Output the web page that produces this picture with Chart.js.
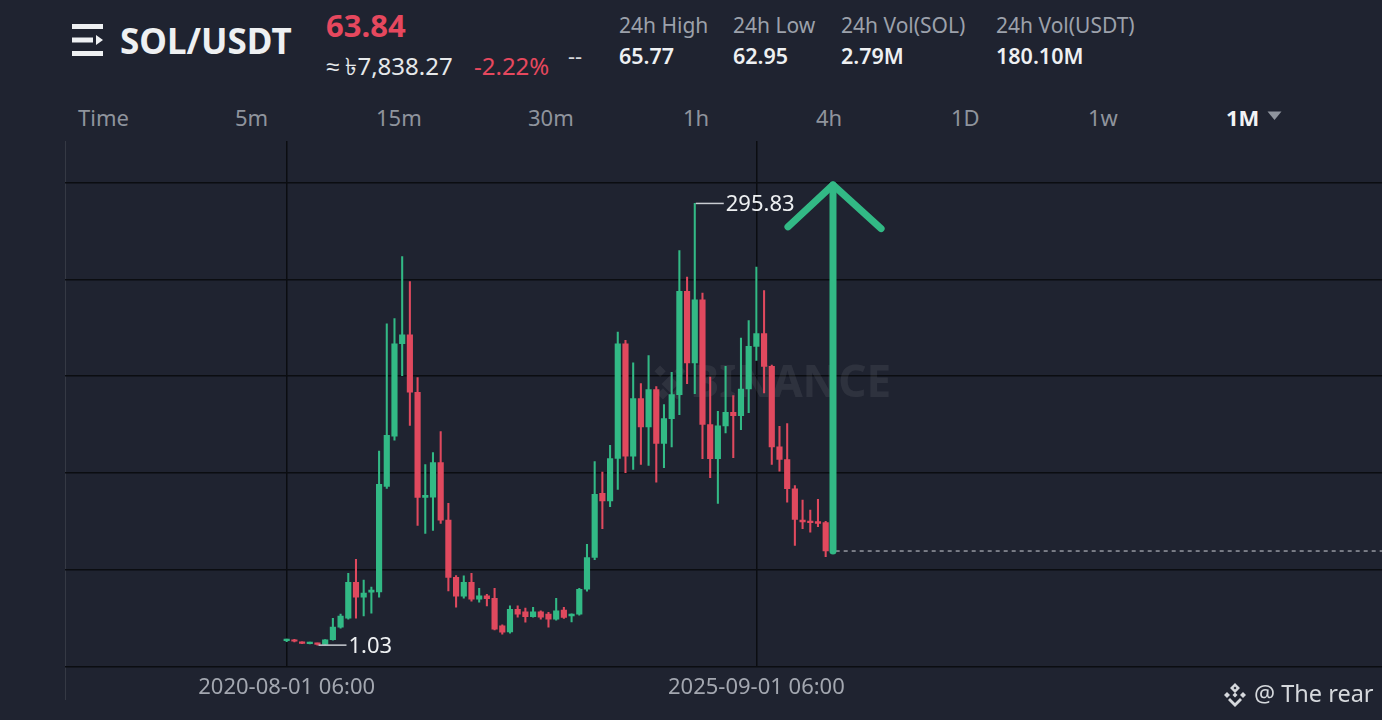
<!DOCTYPE html>
<html lang="en">
<head>
  <meta charset="UTF-8" />
  <title>SOL/USDT 1M</title>
  <script src="https://cdn.jsdelivr.net/npm/chart.js"></script>
  <style>
    html, body {
      margin: 0;
      width: 1382px;
      height: 720px;
      overflow: hidden;
      background: #1f2330;
      font-family: 'Noto Sans', sans-serif;
    }
    .t {
      position: absolute;
      line-height: 1;
      white-space: nowrap;
      transform: translateY(-50%);
    }
    .lbl { font-size: 21px; color: #9ca1ab; }
    .val { font-size: 21.5px; color: #eef0f2; font-weight: 600; }
    .tab { font-size: 22px; color: #8f949d; }
    #pane {
      position: absolute;
      left: 65px;
      top: 141px;
    }
    #edge {
      position: absolute;
      left: 65px;
      top: 141px;
      width: 1px;
      height: 559px;
      background: #353944;
    }
  </style>
</head>
<body>

  <svg style="position:absolute;left:72px;top:24px" width="34" height="32" viewBox="0 0 34 32">
    <rect x="0" y="0" width="31" height="5" fill="#eef0f2"/>
    <rect x="0" y="13.5" width="21" height="5" fill="#eef0f2"/>
    <path d="M24 11 L31 16 L24 21 Z" fill="#eef0f2"/>
    <rect x="0" y="27" width="31" height="5" fill="#eef0f2"/>
  </svg>
  <div class="t" style="left:120px;top:40px;font-size:35px;font-weight:700;color:#eef0f2">SOL/USDT</div>
  <div class="t" style="left:326px;top:25px;font-size:31px;font-weight:700;color:#e6485e">63.84</div>
  <div class="t" style="left:326px;top:66px;font-size:24px;color:#e6e8ea">≈ ৳7,838.27</div>
  <div class="t" style="left:474px;top:66px;font-size:24px;color:#e6485e">-2.22%</div>
  <div class="t" style="left:568px;top:55px;font-size:22px;color:#d5d8dc">--</div>

  <div class="t lbl" style="left:619px;top:25px">24h High</div>
  <div class="t lbl" style="left:733px;top:25px">24h Low</div>
  <div class="t lbl" style="left:841px;top:25px">24h Vol(SOL)</div>
  <div class="t lbl" style="left:996px;top:25px">24h Vol(USDT)</div>
  <div class="t val" style="left:619px;top:56px">65.77</div>
  <div class="t val" style="left:733px;top:56px">62.95</div>
  <div class="t val" style="left:841px;top:56px">2.79M</div>
  <div class="t val" style="left:996px;top:56px">180.10M</div>

  <div class="t tab" style="left:78px;top:117px">Time</div>
  <div class="t tab" style="left:235px;top:117px">5m</div>
  <div class="t tab" style="left:376px;top:117px">15m</div>
  <div class="t tab" style="left:528px;top:117px">30m</div>
  <div class="t tab" style="left:683px;top:117px">1h</div>
  <div class="t tab" style="left:816px;top:117px">4h</div>
  <div class="t tab" style="left:951px;top:117px">1D</div>
  <div class="t tab" style="left:1088px;top:117px">1w</div>
  <div class="t tab" style="left:1226px;top:117px;color:#f2f3f5;font-weight:700">1M</div>
  <svg style="position:absolute;left:1267px;top:111px" width="15" height="10" viewBox="0 0 15 10">
    <path d="M0.5 0.5 L14.5 0.5 L7.5 9 Z" fill="#8f949d"/>
  </svg>

  <div id="edge"></div>
  <canvas id="pane" width="1317" height="579"></canvas>

  <svg style="position:absolute;left:1221px;top:681px" width="28" height="28" viewBox="0 0 28 28">
    <g fill="#d5d8dc">
      <path d="M14 2 L19 7 L14 12 L9 7 Z M14 5.5 L12.5 7 L14 8.5 L15.5 7 Z"/>
      <path d="M3 14 L6 11 L9 14 L6 17 Z"/>
      <path d="M19 14 L22 11 L25 14 L22 17 Z"/>
      <path d="M14 11.5 L16.5 14 L14 16.5 L11.5 14 Z"/>
      <path d="M9 17 L14 22 L19 17 L21 19 L14 26 L7 19 Z"/>
    </g>
  </svg>
  <div class="t" style="left:1254px;top:694px;font-size:23.5px;color:#d5d8dc">@ The rear</div>

  <script>
    // monthly candles, SOL/USDT
    const months = [
      "2020-08", "2020-09", "2020-10", "2020-11", "2020-12",
      "2021-01", "2021-02", "2021-03", "2021-04", "2021-05", "2021-06", "2021-07", "2021-08", "2021-09", "2021-10", "2021-11", "2021-12",
      "2022-01", "2022-02", "2022-03", "2022-04", "2022-05", "2022-06", "2022-07", "2022-08", "2022-09", "2022-10", "2022-11", "2022-12",
      "2023-01", "2023-02", "2023-03", "2023-04", "2023-05", "2023-06", "2023-07", "2023-08", "2023-09", "2023-10", "2023-11", "2023-12",
      "2024-01", "2024-02", "2024-03", "2024-04", "2024-05", "2024-06", "2024-07", "2024-08", "2024-09", "2024-10", "2024-11", "2024-12",
      "2025-01", "2025-02", "2025-03", "2025-04", "2025-05", "2025-06", "2025-07", "2025-08", "2025-09", "2025-10", "2025-11", "2025-12",
      "2026-01", "2026-02", "2026-03", "2026-04", "2026-05", "2026-06"
    ];
    const opens = [
      4.0, 4.5, 3.0, 2.0, 2.0, 1.5, 4.6, 13.0, 19.0, 43.0,
      33.0, 36.3, 36.5, 106.9, 140.5, 202.2, 208.2, 169.8, 99.6, 99.8,
      122.9, 84.5, 46.3, 33.7, 43.0, 31.7, 33.9, 32.3, 13.9, 9.9,
      25.0, 23.2, 20.1, 23.2, 21.7, 18.4, 24.5, 20.6, 21.7, 38.3,
      59.5, 102.3, 97.2, 125.6, 202.2, 127.1, 165.6, 146.7, 171.6, 135.6,
      152.2, 168.2, 237.1, 189.4, 231.5, 148.3, 125.4, 147.4, 156.4, 154.2,
      172.0, 200.4, 208.9, 187.1, 133.4, 124.9, 105.4, 84.5, 83.8, 83.5,
      82.8
    ];
    const highs = [
      5.0, 4.9, 3.3, 3.0, 2.4, 4.8, 19.0, 21.7, 49.0, 58.3,
      44.5, 39.7, 130.5, 215.5, 218.9, 260.3, 243.7, 179.6, 121.6, 129.6,
      143.6, 95.6, 47.5, 47.2, 49.0, 39.0, 35.0, 39.0, 14.5, 27.2,
      27.2, 25.7, 26.3, 23.9, 23.0, 32.3, 26.3, 22.0, 39.0, 68.3,
      123.6, 116.5, 134.3, 210.0, 204.4, 189.4, 175.6, 194.3, 173.6, 161.6,
      183.1, 264.4, 246.7, 295.83, 236.0, 180.0, 157.1, 187.1, 167.6, 206.0,
      217.7, 253.3, 237.7, 188.0, 147.1, 148.9, 107.5, 97.8, 91.2, 98.3,
      83.6
    ];
    const lows = [
      3.4, 3.2, 2.0, 1.9, 1.03, 1.3, 4.3, 12.4, 18.4, 19.0,
      20.5, 22.3, 33.0, 105.6, 137.8, 180.9, 147.6, 81.0, 75.6, 77.6,
      82.3, 37.2, 26.3, 32.3, 30.3, 29.7, 27.2, 11.2, 8.4, 9.0,
      19.7, 16.4, 19.7, 18.4, 13.0, 17.7, 18.9, 16.6, 21.0, 37.0,
      58.0, 78.8, 93.4, 104.9, 116.1, 118.3, 121.6, 120.9, 109.8, 119.4,
      133.4, 154.9, 175.6, 168.9, 125.4, 112.8, 95.6, 142.7, 126.1, 144.9,
      156.1, 191.1, 169.4, 121.6, 117.2, 96.5, 67.6, 78.8, 76.5, 80.1,
      60.1
    ];
    const closes = [
      4.8, 3.6, 2.2, 2.6, 1.5, 4.5, 13.0, 20.5, 43.0, 33.0,
      35.7, 37.7, 108.3, 141.1, 202.2, 208.2, 169.8, 99.6, 101.0, 122.9,
      84.5, 46.3, 33.7, 43.0, 31.7, 33.9, 32.0, 11.7, 9.7, 25.0,
      21.7, 20.1, 23.2, 19.7, 18.4, 23.9, 19.5, 21.7, 38.3, 59.5,
      101.6, 97.2, 125.6, 202.2, 127.1, 165.6, 146.7, 171.6, 135.6, 152.2,
      168.2, 237.1, 189.4, 231.5, 148.3, 125.4, 147.4, 156.4, 154.2, 172.0,
      200.4, 208.9, 187.1, 133.4, 124.9, 105.4, 85.0, 83.2, 82.8, 82.2,
      63.84
    ];

    // x ticks (candle index) and their labels
    const tickIdx = [0, 61];
    const tickLabels = ["2020-08-01 06:00", "2025-09-01 06:00"];
    // horizontal pane divisions (price values)
    const gridValues = [-13.3, 51.3, 116.0, 180.6, 245.2, 309.8];
    const lastPrice = 63.84;
    // hand-drawn arrow, in [index, price]
    const arrowShaft = [[70.95, 63.84], [70.95, 308.2]];
    const arrowHead = [[65.1, 280.2], [70.95, 308.2], [77.2, 279.0]];

    const UP = '#32b985', DOWN = '#e0495e', GRID = '#0b0d11';
    const isUp = i => closes[i] >= opens[i];

    Chart.defaults.font.family = "'Noto Sans', sans-serif";

    const extras = {
      id: 'extras',
      beforeDatasetsDraw(chart) {
        // faint BINANCE watermark
        const c = chart.ctx;
        c.save();
        c.fillStyle = 'rgba(255,255,255,0.07)';
        c.font = "bold 44px 'Noto Sans', sans-serif";
        c.textBaseline = 'middle';
        c.fillText('BINANCE', 625, 243);
        c.translate(605, 243);
        c.rotate(Math.PI / 4);
        c.fillRect(-6, -6, 12, 12);
        c.fillRect(-20, -6, 8, 8);
        c.fillRect(-6, -20, 8, 8);
        c.fillRect(8, -2, 8, 8);
        c.fillRect(-2, 8, 8, 8);
        c.restore();
      },
      afterDatasetsDraw(chart) {
        const c = chart.ctx, xs = chart.scales.x, ys = chart.scales.y;
        const hiI = highs.indexOf(Math.max(...highs));
        const loI = lows.indexOf(Math.min(...lows));
        c.save();
        c.strokeStyle = '#c9ccd2';
        c.fillStyle = '#eef0f2';
        c.lineWidth = 1.5;
        c.font = "22px 'Noto Sans', sans-serif";
        c.textBaseline = 'middle';
        [[hiI, highs[hiI]], [loI, lows[loI]]].forEach(([i, v]) => {
          const px = xs.getPixelForValue(i), py = ys.getPixelForValue(v);
          c.beginPath();
          c.moveTo(px + 1, py);
          c.lineTo(px + 29, py);
          c.stroke();
          c.fillText(v.toFixed(2), px + 31, py + 1.5);
        });
        c.restore();
      }
    };

    new Chart(document.getElementById('pane'), {
      type: 'bar',
      data: {
        datasets: [
          {
            type: 'line',
            data: arrowShaft.map(p => ({ x: p[0], y: p[1] })),
            borderColor: UP,
            borderWidth: 7,
            borderCapStyle: 'round',
            pointRadius: 0,
            order: 0
          },
          {
            type: 'line',
            data: arrowHead.map(p => ({ x: p[0], y: p[1] })),
            borderColor: UP,
            borderWidth: 7,
            borderCapStyle: 'round',
            borderJoinStyle: 'round',
            pointRadius: 0,
            order: 0
          },
          {
            type: 'line',
            data: [{ x: 71.3, y: lastPrice }, { x: 143, y: lastPrice }],
            borderColor: '#cfd2d8',
            borderWidth: 1,
            borderDash: [4, 4],
            pointRadius: 0,
            order: 1
          },
          {
            label: 'body',
            data: months.map((m, i) => ({ x: i, y: [opens[i], closes[i]] })),
            backgroundColor: ctx => isUp(ctx.dataIndex) ? UP : DOWN,
            barThickness: 5.5,
            minBarLength: 1.5,
            grouped: false,
            order: 2
          },
          {
            label: 'wick',
            data: months.map((m, i) => ({ x: i, y: [lows[i], highs[i]] })),
            backgroundColor: ctx => isUp(ctx.dataIndex) ? UP : DOWN,
            barThickness: 1.4,
            grouped: false,
            order: 3
          }
        ]
      },
      options: {
        responsive: false,
        animation: false,
        layout: { padding: { bottom: 11 } },
        plugins: { legend: { display: false }, tooltip: { enabled: false } },
        scales: {
          x: {
            type: 'linear',
            min: -28.79,
            max: 142.25,
            offset: false,
            afterBuildTicks: s => { s.ticks = tickIdx.map(v => ({ value: v })); },
            grid: { color: GRID, lineWidth: 1.5, drawTicks: false, offset: false },
            border: { display: false },
            ticks: {
              autoSkip: false,
              maxRotation: 0,
              padding: 8,
              color: '#a3a7b0',
              font: { size: 22 },
              callback: v => tickLabels[tickIdx.indexOf(v)]
            }
          },
          y: {
            type: 'linear',
            min: -13.3,
            max: 337.5,
            afterBuildTicks: s => { s.ticks = gridValues.map(v => ({ value: v })); },
            grid: { color: GRID, lineWidth: 1.5, drawTicks: false },
            border: { display: false },
            ticks: { display: false }
          }
        }
      },
      plugins: [extras]
    });
  </script>
</body>
</html>
